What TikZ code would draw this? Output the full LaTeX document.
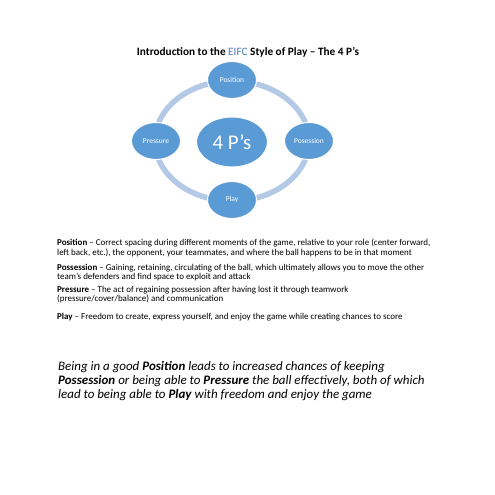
\documentclass[tikz,border=0pt]{standalone}
\usepackage{fontspec}
\setmainfont{Carlito}
\usetikzlibrary{shapes.geometric}
\definecolor{pblue}{HTML}{5B9BD5}
\definecolor{ringblue}{HTML}{B4C9E6}
\definecolor{eifcblue}{HTML}{4F81BD}
\tikzset{
  pnode/.style={ellipse,fill=pblue,draw=white,line width=1bp,minimum width=49bp,minimum height=37bp,
    inner sep=0pt,text=white,font=\fontsize{7.5}{9}\selectfont},
  bodytext/.style={anchor=north west,align=left,inner sep=0pt,font=\fontsize{9}{9.3}\selectfont},
}
\begin{document}
\begin{tikzpicture}[x=1bp,y=-1bp]
  \useasboundingbox[fill=white] (0,0) rectangle (495,495);
  \node (title) at (248,52) {\fontsize{11.3}{13}\selectfont\bfseries Introduction to the {\mdseries\color{eifcblue}EIFC} Style of Play -- The 4 P's};
  % ring behind the nodes
  \draw[ringblue,line width=5.5bp] (232,141) ellipse [x radius=77,y radius=60];
  \node[pnode] (position) at (232,80)  {Position};
  \node[pnode] (pressure) at (156,141) {Pressure};
  \node[pnode] (posession) at (309,141) {Posession};
  \node[pnode] (play)     at (232,200) {Play};
  \node[pnode,minimum width=71bp,minimum height=50bp,font=\fontsize{21}{24}\selectfont] (fourp) at (232,142) {4 P's};
  % descriptions
  \node[bodytext] (dposition) at (57,239) {\textbf{Position} -- Correct spacing during different moments of the game, relative to your role (center forward,\\
    left back, etc.), the opponent, your teammates, and where the ball happens to be in that moment};
  \node[bodytext] (dposession) at (57,264) {\textbf{Possession} -- Gaining, retaining, circulating of the ball, which ultimately allows you to move the other\\
    team's defenders and find space to exploit and attack};
  \node[bodytext] (dpressure) at (57,286) {\textbf{Pressure} -- The act of regaining possession after having lost it through teamwork\\
    (pressure/cover/balance) and communication};
  \node[bodytext] (dplay) at (57,313) {\textbf{Play} -- Freedom to create, express yourself, and enjoy the game while creating chances to score};
  % summary
  \node[bodytext,font=\fontsize{13}{14}\selectfont\itshape] (summary) at (58,361) {Being in a good \textbf{Position} leads to increased chances of keeping\\
    \textbf{Possession} or being able to \textbf{Pressure} the ball effectively, both of which\\
    lead to being able to \textbf{Play} with freedom and enjoy the game};
\end{tikzpicture}
\end{document}
